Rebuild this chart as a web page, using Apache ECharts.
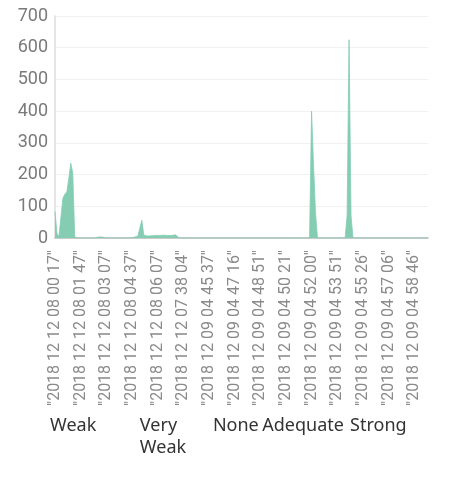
<!DOCTYPE html>
<html>
<head>
<meta charset="utf-8">
<script src="https://cdn.jsdelivr.net/npm/echarts@6/dist/echarts.min.js"></script>
<style>
html,body{margin:0;padding:0;background:#fff;}
#main{width:474px;height:490px;}
</style>
</head>
<body>
<div id="main"></div>
<script>
// Tick labels shown every 13th sample along the x axis
var tickLabels = [
  '"2018 12 12 08 00 17"', '"2018 12 12 08 01 47"', '"2018 12 12 08 03 07"',
  '"2018 12 12 08 04 37"', '"2018 12 12 08 06 07"', '"2018 12 12 07 38 04"',
  '"2018 12 09 04 45 37"', '"2018 12 09 04 47 16"', '"2018 12 09 04 48 51"',
  '"2018 12 09 04 50 21"', '"2018 12 09 04 52 00"', '"2018 12 09 04 53 51"',
  '"2018 12 09 04 55 26"', '"2018 12 09 04 57 06"', '"2018 12 09 04 58 46"'
];
var tickStep = 13;

// Group names written under the axis, and the sample index where each begins
var groupNames = ['Weak', 'Very\nWeak', 'None', 'Adequate', 'Strong'];
var groupStart = [-2.5, 43, 80, 105, 149.5];

// Series values, one per sample (190 samples)
var values = [
  84, 14, 5, 4, 125, 138, 145, 188, 236, 205,
  3, 0, 0, 0, 0, 0, 0, 0, 0, 0,
  0, 0, 3, 7, 3, 0, 0, 0, 0, 0,
  0, 0, 0, 0, 0, 0, 0, 0, 0, 0,
  2, 5, 6, 7, 56, 9, 7, 6, 8, 7,
  7, 8, 9, 8, 7, 9, 10, 8, 7, 8,
  9, 10, 9, 0, 0, 0, 0, 0, 0, 0,
  0, 0, 0, 0, 0, 0, 0, 0, 0, 0,
  0, 0, 0, 0, 0, 0, 0, 0, 0, 0,
  0, 0, 0, 0, 0, 0, 0, 0, 0, 0,
  0, 0, 0, 0, 0, 0, 0, 0, 0, 0,
  0, 0, 0, 0, 0, 0, 0, 0, 0, 0,
  0, 0, 0, 0, 0, 0, 0, 0, 0, 0,
  400, 230, 80, 0, 4, 0, 0, 0, 0, 0,
  0, 0, 0, 0, 0, 0, 0, 0, 70, 625,
  70, 0, 0, 0, 0, 0, 0, 0, 0, 0,
  0, 0, 0, 0, 0, 0, 0, 0, 0, 0,
  0, 0, 0, 0, 0, 0, 0, 0, 0, 0,
  0, 0, 0, 0, 0, 0, 0, 0, 0, 0
];

var yMin = 0, yMax = 700, yStep = 100;

var chart = echarts.init(document.getElementById('main'), null, {renderer: 'canvas'});
var points = values.map(function (v, i) { return [i, v]; });

chart.setOption({
  animation: false,
  backgroundColor: '#ffffff',
  grid: {left: 55, right: 46, top: 16, bottom: 252, containLabel: false},
  xAxis: {
    type: 'value',
    min: 0,
    max: values.length - 1,
    interval: tickStep,
    axisLine: {show: true, lineStyle: {color: '#bdbdbd', width: 1.5}},
    axisTick: {show: false},
    splitLine: {show: false},
    axisLabel: {
      rotate: 90,
      margin: 12,
      color: '#8a8a8a',
      fontFamily: 'Roboto',
      fontSize: 16,
      showMaxLabel: false,
      formatter: function (v) {
        if (v % tickStep !== 0) return '';
        var k = v / tickStep;
        return tickLabels[k] || '';
      }
    }
  },
  yAxis: {
    type: 'value',
    min: yMin,
    max: yMax,
    interval: yStep,
    axisLine: {show: true, lineStyle: {color: '#dcdcdc', width: 1.5}},
    axisTick: {show: false},
    splitLine: {show: true, lineStyle: {color: '#f1f1f1', width: 1}},
    axisLabel: {
      margin: 7,
      color: '#7a7a7a',
      fontFamily: 'Roboto',
      fontSize: 18
    }
  },
  series: [{
    type: 'line',
    data: points,
    showSymbol: false,
    symbol: 'none',
    sampling: null,
    lineStyle: {color: '#84cdb2', width: 0.8},
    areaStyle: {color: '#84cdb2', opacity: 1},
    z: 2
  }]
});

function placeGroups() {
  var els = groupNames.map(function (name, i) {
    var px = chart.convertToPixel({xAxisIndex: 0}, groupStart[i]);
    return {
      type: 'text',
      left: px,
      top: 415,
      style: {
        text: name,
        fill: '#333333',
        font: '18px "Noto Sans"',
        lineHeight: 22,
        textAlign: 'left'
      }
    };
  });
  chart.setOption({graphic: els});
}
placeGroups();
</script>
</body>
</html>
